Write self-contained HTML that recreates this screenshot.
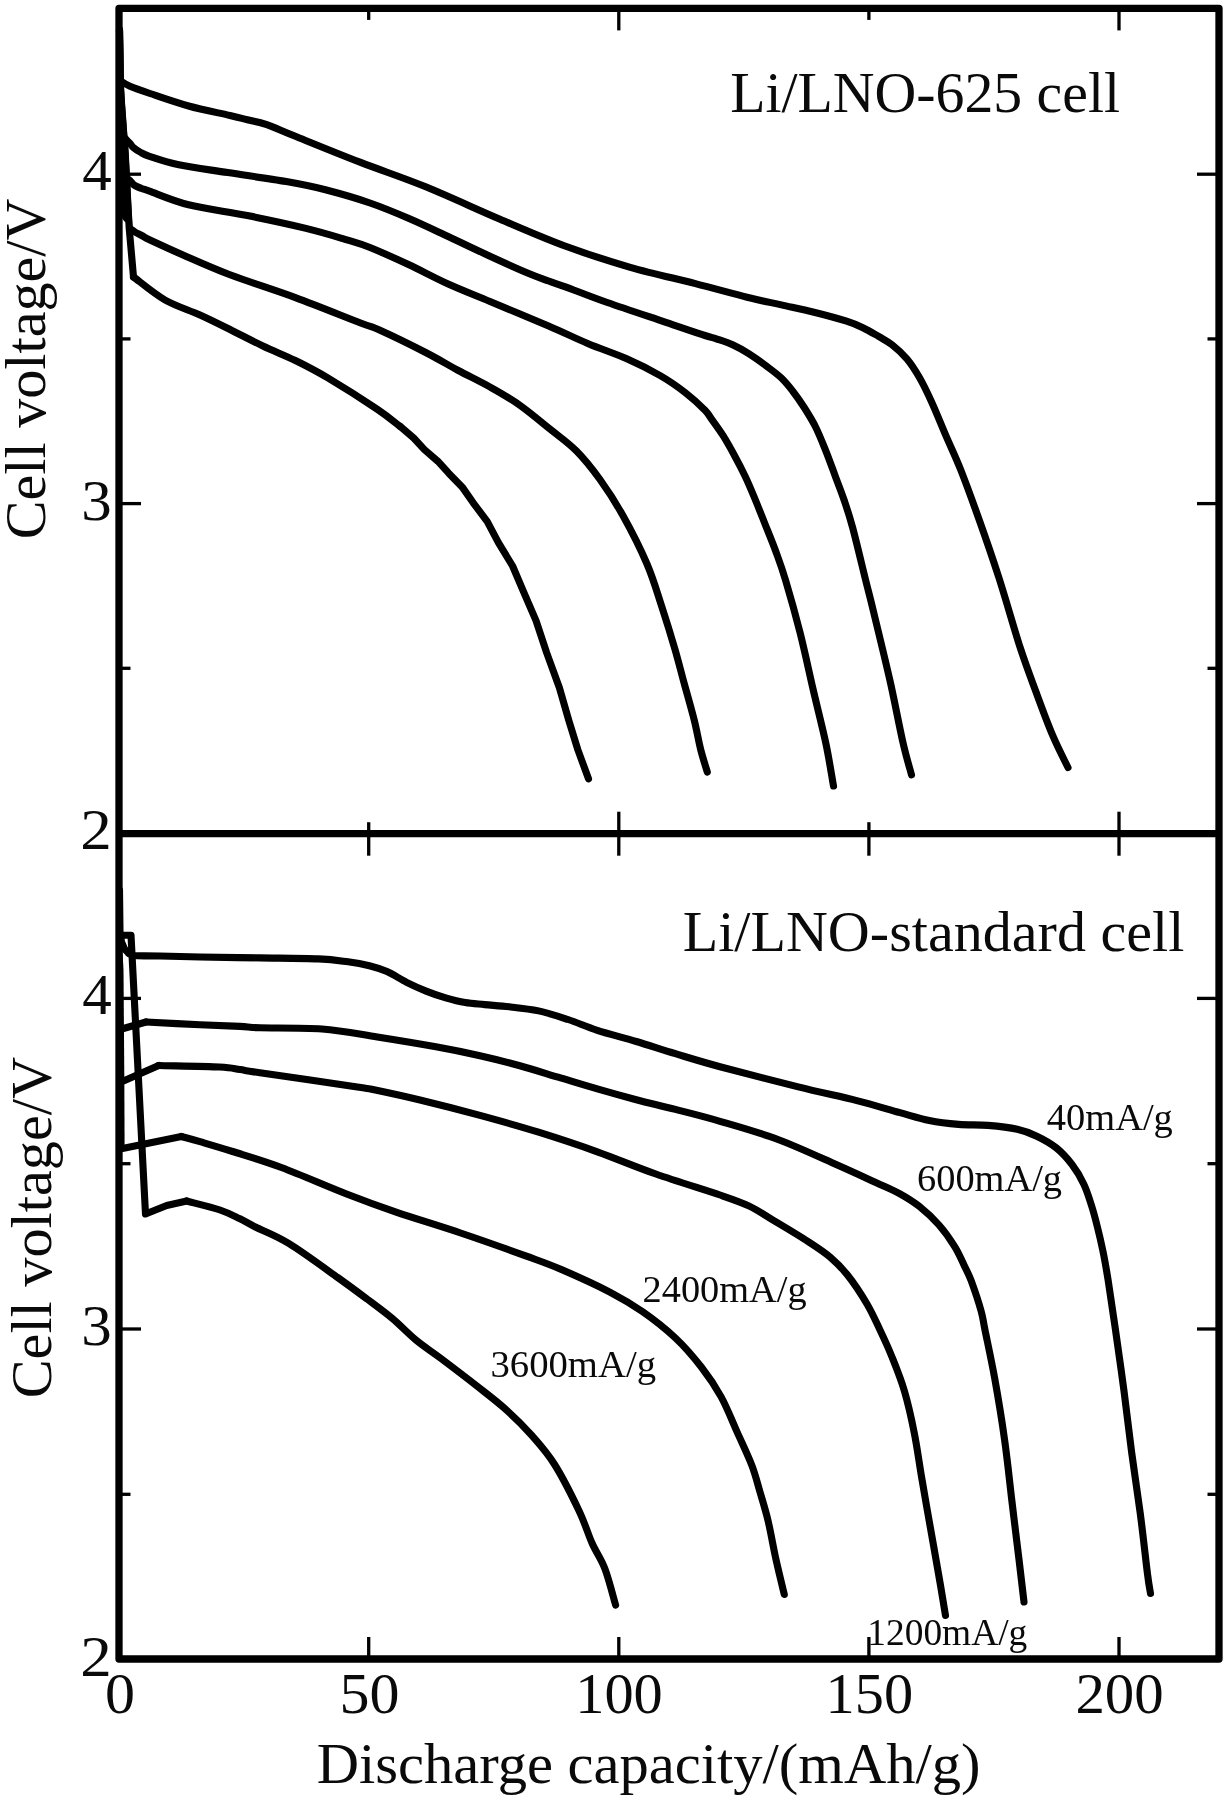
<!DOCTYPE html>
<html><head><meta charset="utf-8"><title>Discharge curves</title>
<style>
html,body{margin:0;padding:0;background:#fff}
svg{display:block;filter:blur(0.75px)}
text{fill:#0a0a0a}
</style></head>
<body>
<svg width="1228" height="1800" viewBox="0 0 1228 1800">
<rect width="1228" height="1800" fill="#fff"/>
<g fill="none" stroke="#000" stroke-width="7.1" stroke-linejoin="round" stroke-linecap="round">
<path d="M119.5 30.0 L120.0 78.0"/>
<path d="M120.8 81.0 C122.3 81.9 125.1 84.2 130.0 86.3 C134.9 88.4 140.2 90.2 150.0 93.5 C159.8 96.8 175.3 102.3 188.6 106.0 C201.9 109.7 220.2 113.2 230.0 115.5 C239.8 117.8 241.2 118.3 247.3 119.8 C253.4 121.3 258.8 122.0 266.8 124.7 C274.8 127.5 279.8 130.0 295.4 136.3 C311.0 142.6 338.9 154.0 360.6 162.4 C382.3 170.8 402.5 177.3 425.7 186.8 C448.9 196.3 476.8 209.3 500.0 219.2 C523.2 229.1 543.3 238.0 565.0 246.0 C586.7 254.0 608.6 261.0 630.3 267.3 C652.0 273.6 675.9 278.6 695.4 283.6 C714.9 288.6 732.7 293.6 747.0 297.2 C761.3 300.8 770.2 302.4 781.4 304.9 C792.6 307.4 803.1 309.5 814.0 312.2 C824.9 314.9 838.5 318.6 846.6 321.2 C854.8 323.8 857.5 325.1 862.9 327.7 C868.3 330.3 874.1 333.8 879.0 336.6 C883.9 339.5 887.3 341.1 892.0 344.8 C896.7 348.5 902.5 353.6 907.0 359.0 C911.5 364.4 915.2 370.2 919.3 377.3 C923.4 384.4 927.0 391.9 931.5 401.7 C936.0 411.5 941.1 424.5 946.0 435.9 C950.9 447.3 955.2 455.8 960.8 470.0 C966.4 484.2 973.2 503.0 979.6 521.0 C986.0 539.0 992.2 556.9 999.0 578.0 C1005.8 599.1 1014.0 628.5 1020.2 647.7 C1026.5 666.9 1031.1 678.6 1036.5 693.3 C1041.9 708.0 1047.5 723.3 1052.8 735.7 C1058.0 748.1 1065.5 762.3 1068.0 767.6"/>
<path d="M119.5 30.0 L120.0 78.0"/>
<path d="M124.8 138.0 C125.2 138.5 126.6 140.1 127.5 141.0 C128.4 141.9 129.0 142.4 130.0 143.5 C131.0 144.6 131.6 146.1 133.3 147.5 C135.0 148.9 137.3 150.5 140.0 152.0 C142.7 153.5 143.0 154.2 149.5 156.3 C156.0 158.4 165.9 162.1 178.9 164.8 C191.9 167.5 209.8 169.8 227.7 172.6 C245.6 175.4 270.0 178.7 286.3 181.6 C302.6 184.5 311.4 186.2 325.4 189.8 C339.3 193.4 356.1 198.2 370.0 203.0 C383.9 207.8 396.0 212.9 409.0 218.5 C422.0 224.1 435.1 230.4 448.2 236.5 C461.2 242.6 474.3 249.0 487.3 255.0 C500.3 261.0 516.1 268.2 526.3 272.5 C536.5 276.8 542.1 278.6 548.6 281.0 C555.1 283.4 555.6 283.2 565.4 286.8 C575.2 290.4 590.5 296.6 607.3 302.5 C624.0 308.4 649.6 316.8 665.9 322.3 C682.2 327.8 696.6 332.8 705.0 335.5 C713.4 338.2 711.7 337.2 716.3 338.8 C720.9 340.4 727.2 342.3 732.6 344.8 C738.0 347.3 743.5 350.3 748.9 353.7 C754.3 357.1 759.6 360.9 765.0 365.0 C770.4 369.1 776.8 373.6 781.4 378.0 C786.0 382.4 789.0 386.3 792.8 391.2 C796.6 396.1 800.4 401.5 804.2 407.5 C808.0 413.5 812.1 419.9 815.6 427.0 C819.1 434.1 822.1 441.7 825.4 449.8 C828.7 457.9 832.1 467.5 835.2 475.9 C838.3 484.3 841.2 491.4 844.1 500.0 C847.0 508.6 849.0 514.2 852.6 527.5 C856.2 540.8 862.1 565.9 865.6 580.0 C869.1 594.1 869.6 595.3 873.6 612.0 C877.6 628.7 885.0 658.6 889.9 680.3 C894.8 702.0 899.3 726.5 902.9 742.2 C906.5 758.0 910.1 769.4 911.5 774.8"/>
<path d="M119.5 30.0 L120.0 78.0"/>
<path d="M127.0 178.5 C127.5 178.8 128.8 179.4 130.0 180.5 C131.2 181.6 132.1 183.7 134.0 185.0 C135.9 186.3 139.1 187.5 141.7 188.5 C144.3 189.5 141.7 188.5 149.5 191.2 C157.3 193.9 172.3 200.7 188.6 204.8 C204.9 208.9 227.7 211.7 247.3 215.6 C266.9 219.5 289.7 224.4 306.0 228.4 C322.3 232.4 334.3 236.1 345.0 239.3 C355.7 242.5 359.3 243.2 370.0 247.5 C380.7 251.8 396.0 258.7 409.0 264.8 C422.0 270.9 434.7 277.9 448.2 284.0 C461.7 290.1 473.3 294.5 490.0 301.5 C506.7 308.5 532.3 319.0 548.6 326.0 C564.9 333.0 574.7 338.0 587.7 343.5 C600.7 349.0 614.8 353.5 626.8 358.8 C638.8 364.1 650.2 369.9 660.0 375.5 C669.8 381.1 677.9 386.9 685.4 392.7 C692.9 398.5 700.7 405.8 705.0 410.2 C709.3 414.6 708.4 414.7 711.4 418.9 C714.4 423.1 719.0 429.2 722.8 435.2 C726.6 441.2 730.5 448.2 734.2 455.0 C737.9 461.8 741.5 468.7 745.0 476.0 C748.5 483.3 751.7 491.0 755.0 499.0 C758.3 507.0 761.5 515.2 765.0 524.0 C768.5 532.8 772.6 542.7 776.0 552.0 C779.4 561.3 781.5 566.6 785.5 580.0 C789.5 593.4 795.4 614.2 800.0 632.4 C804.6 650.5 808.7 670.3 813.0 688.9 C817.3 707.5 822.6 727.8 826.0 744.0 C829.4 760.2 832.2 779.0 833.5 786.0"/>
<path d="M119.5 30.0 L120.0 78.0"/>
<path d="M129.6 228.5 C130.5 229.1 133.0 230.8 135.0 232.0 C137.0 233.2 139.2 234.2 141.7 235.5 C144.2 236.8 143.1 236.8 150.0 240.0 C156.9 243.2 169.7 249.2 183.0 255.0 C196.3 260.8 211.3 267.7 230.0 274.8 C248.7 281.9 273.6 289.6 295.4 297.6 C317.2 305.6 346.5 317.6 360.6 323.0 C374.7 328.4 369.1 325.4 380.0 330.3 C390.9 335.2 412.6 345.8 425.7 352.5 C438.8 359.2 447.6 364.8 458.3 370.5 C469.0 376.2 479.8 381.3 490.0 387.0 C500.2 392.7 509.2 397.7 519.3 404.8 C529.4 411.9 541.1 421.8 550.6 429.5 C560.1 437.2 568.3 442.7 576.5 451.0 C584.7 459.3 592.1 468.6 599.8 479.3 C607.5 490.0 614.7 500.9 622.6 515.0 C630.5 529.1 640.5 548.8 647.0 564.0 C653.5 579.2 657.1 592.3 661.7 606.4 C666.3 620.5 671.0 635.7 674.8 648.7 C678.6 661.7 681.2 672.5 684.5 684.5 C687.8 696.5 691.6 709.5 694.3 720.4 C697.0 731.3 698.6 741.4 700.8 750.0 C703.0 758.6 706.2 768.3 707.3 772.0"/>
<path d="M119.5 40.0 L120.0 78.0 L121.5 103.0 L124.0 137.0 L125.2 153.0 L126.5 178.0 L127.8 203.0 L129.2 228.0 L133.5 277.0"/>
<path d="M133.5 277.0 C138.8 280.8 153.9 293.7 165.0 300.0 C176.1 306.3 189.2 310.1 200.0 315.0 C210.8 319.9 219.5 324.3 230.0 329.5 C240.5 334.7 252.0 340.8 262.9 346.0 C273.8 351.2 284.5 355.2 295.4 360.5 C306.2 365.8 314.4 369.9 328.0 378.0 C341.6 386.1 364.9 400.9 376.9 409.0 C388.9 417.1 396.1 423.4 400.0 426.3"/>
<path d="M400.0 426.3 L413.7 438.0 L424.4 449.6 L437.8 461.2 L448.7 473.2 L462.1 486.9 L473.2 502.8 L487.3 521.6 L498.4 542.7 L512.6 566.0 L523.5 591.7 L536.1 620.9 L546.7 652.9 L559.4 687.7 L568.9 720.8 L577.8 749.6 L588.5 778.8"/>
<path d="M119.5 890.0 L120.0 932.0 L121.5 942.0 L124.5 949.0 L129.0 953.5"/>
<path d="M129.0 953.5 C129.7 953.8 131.7 954.8 133.0 955.2 C134.3 955.6 132.5 955.7 137.0 955.8 C141.5 955.9 149.5 955.8 160.0 956.0 C170.5 956.2 183.3 956.7 200.0 957.0 C216.7 957.3 240.2 957.6 260.0 957.9 C279.8 958.2 303.9 958.2 318.6 958.9 C333.3 959.5 339.5 960.7 348.0 961.8 C356.5 962.9 362.9 964.1 369.4 965.7 C375.9 967.3 380.8 968.8 387.0 971.6 C393.2 974.4 400.1 979.0 406.6 982.3 C413.1 985.5 419.6 988.5 426.1 991.1 C432.6 993.7 439.2 996.0 445.7 997.9 C452.2 999.8 458.7 1001.5 465.2 1002.6 C471.7 1003.7 477.3 1003.9 484.7 1004.6 C492.1 1005.3 500.3 1005.8 509.3 1006.8 C518.3 1007.8 528.8 1008.8 538.6 1010.9 C548.4 1013.0 558.2 1016.3 568.0 1019.5 C577.8 1022.7 585.9 1026.6 597.3 1030.3 C608.7 1034.0 623.3 1037.6 636.3 1041.5 C649.3 1045.4 661.4 1049.5 675.4 1053.7 C689.4 1057.9 699.5 1061.2 720.0 1066.7 C740.5 1072.2 775.4 1081.2 798.2 1086.9 C821.0 1092.6 839.8 1096.3 856.8 1100.6 C873.8 1104.9 887.9 1109.4 900.0 1112.7 C912.1 1116.0 919.5 1118.5 929.3 1120.5 C939.1 1122.5 948.8 1123.6 958.6 1124.4 C968.4 1125.2 978.2 1124.6 988.0 1125.4 C997.8 1126.2 1009.2 1127.5 1017.3 1129.3 C1025.4 1131.1 1030.3 1133.1 1036.8 1136.2 C1043.3 1139.3 1050.4 1143.2 1056.3 1147.9 C1062.2 1152.6 1067.4 1158.5 1072.0 1164.5 C1076.6 1170.5 1080.5 1177.2 1083.7 1184.0 C1087.0 1190.8 1089.2 1198.3 1091.5 1205.5 C1093.8 1212.7 1095.5 1219.2 1097.4 1227.0 C1099.4 1234.8 1101.4 1243.6 1103.2 1252.4 C1105.0 1261.2 1106.0 1267.1 1108.1 1280.0 C1110.1 1292.9 1112.8 1311.5 1115.5 1330.0 C1118.2 1348.5 1121.3 1370.7 1124.0 1391.0 C1126.7 1411.3 1128.9 1431.7 1131.6 1452.0 C1134.3 1472.3 1137.5 1492.7 1140.2 1513.0 C1142.9 1533.3 1145.8 1560.6 1147.5 1574.0 C1149.2 1587.4 1150.0 1590.2 1150.5 1593.5"/>
<path d="M120.0 1029.5 L146.0 1022.0"/>
<path d="M146.0 1022.0 C155.0 1022.5 184.3 1024.1 200.0 1024.8 C215.7 1025.5 230.0 1025.9 240.0 1026.4 C250.0 1026.9 246.3 1027.4 260.0 1027.8 C273.7 1028.2 302.4 1027.5 322.0 1029.0 C341.6 1030.5 358.3 1034.0 377.3 1037.0 C396.3 1040.0 418.8 1043.7 435.9 1046.8 C453.0 1049.9 466.1 1052.6 480.0 1055.7 C493.9 1058.8 506.0 1061.9 519.0 1065.5 C532.0 1069.1 545.2 1073.3 558.2 1077.2 C571.2 1081.1 584.3 1085.2 597.3 1088.9 C610.3 1092.7 623.3 1096.3 636.3 1099.7 C649.3 1103.1 661.4 1105.8 675.4 1109.4 C689.4 1113.0 702.8 1116.2 720.0 1121.3 C737.2 1126.3 759.1 1132.4 778.6 1139.7 C798.1 1147.0 821.0 1157.8 837.3 1165.0 C853.6 1172.2 865.8 1177.9 876.3 1182.7 C886.8 1187.5 892.8 1189.8 900.0 1193.8 C907.2 1197.8 913.0 1201.3 919.5 1206.5 C926.0 1211.7 933.1 1218.3 939.0 1225.0 C944.9 1231.7 950.5 1239.8 954.7 1246.6 C959.0 1253.4 961.7 1260.4 964.5 1266.1 C967.3 1271.8 968.5 1273.6 971.3 1281.0 C974.0 1288.4 978.7 1302.4 981.0 1310.6 C983.3 1318.8 982.7 1318.6 985.0 1330.0 C987.3 1341.4 991.5 1360.6 994.8 1378.9 C998.1 1397.2 1001.8 1419.7 1004.6 1440.0 C1007.5 1460.3 1009.5 1480.7 1011.9 1501.0 C1014.3 1521.3 1017.3 1545.2 1019.3 1562.0 C1021.3 1578.8 1023.2 1595.3 1024.0 1602.0"/>
<path d="M120.0 1082.5 L158.7 1065.5"/>
<path d="M158.7 1065.5 C168.8 1065.8 205.9 1066.3 219.5 1067.0 C233.1 1067.7 233.2 1068.6 240.0 1069.6 C246.8 1070.6 240.4 1069.9 260.0 1072.8 C279.6 1075.7 338.1 1084.1 357.3 1087.0 C376.5 1089.9 364.9 1087.8 375.3 1090.0 C385.8 1092.2 402.6 1095.8 420.0 1100.0 C437.4 1104.2 460.2 1110.0 480.0 1115.4 C499.8 1120.8 519.1 1126.1 538.6 1132.2 C558.1 1138.3 577.8 1144.8 597.3 1151.8 C616.8 1158.8 635.4 1166.8 655.9 1174.0 C676.4 1181.2 704.4 1189.7 720.0 1195.0 C735.6 1200.3 740.5 1201.9 749.3 1206.1 C758.1 1210.3 763.0 1214.1 772.8 1220.0 C782.6 1225.9 798.5 1235.3 808.0 1241.5 C817.5 1247.7 823.4 1251.4 830.0 1257.0 C836.6 1262.6 841.3 1267.2 847.5 1275.0 C853.7 1282.8 861.6 1294.8 867.0 1304.0 C872.4 1313.2 875.8 1321.2 880.0 1330.0 C884.2 1338.8 887.9 1346.8 892.0 1357.0 C896.1 1367.2 900.7 1378.4 904.4 1391.0 C908.1 1403.6 911.4 1418.3 914.2 1432.6 C917.1 1446.9 918.9 1461.1 921.5 1476.6 C924.1 1492.1 927.1 1509.2 930.0 1525.5 C932.9 1541.8 936.0 1559.3 938.6 1574.3 C941.2 1589.3 944.4 1608.6 945.5 1615.5"/>
<path d="M120.0 1149.0 L181.4 1136.5"/>
<path d="M181.4 1136.5 C184.5 1137.4 191.5 1139.2 200.0 1141.7 C208.5 1144.2 219.0 1147.2 232.6 1151.5 C246.2 1155.8 262.4 1160.4 281.4 1167.5 C300.4 1174.6 327.6 1186.6 346.6 1194.0 C365.6 1201.4 376.4 1205.4 395.4 1211.9 C414.4 1218.4 438.9 1225.7 460.6 1233.0 C482.3 1240.3 508.9 1249.8 525.7 1255.9 C542.5 1262.0 547.3 1263.4 561.4 1269.5 C575.5 1275.6 596.7 1285.2 610.3 1292.3 C623.9 1299.4 632.0 1304.3 642.9 1311.9 C653.8 1319.5 665.6 1328.8 675.4 1338.0 C685.2 1347.2 693.9 1357.5 701.5 1367.3 C709.1 1377.1 715.0 1385.8 721.0 1396.6 C727.0 1407.4 732.2 1421.0 737.3 1432.4 C742.4 1443.8 747.9 1455.1 751.7 1465.0 C755.5 1474.9 757.3 1482.8 760.0 1492.0 C762.7 1501.2 765.3 1509.2 768.0 1520.5 C770.7 1531.8 773.3 1547.3 776.0 1559.6 C778.7 1571.9 782.9 1588.7 784.3 1594.5"/>
<path d="M119.5 935.3 L131.0 935.3 L145.5 1214.0 L166.7 1205.5 L186.7 1201.0"/>
<path d="M186.7 1201.0 C192.2 1202.5 211.1 1207.0 220.0 1210.0 C228.9 1213.0 234.1 1216.0 240.0 1218.8 C245.9 1221.6 247.2 1222.9 255.4 1227.0 C263.6 1231.1 275.2 1235.1 288.9 1243.5 C302.6 1251.9 324.7 1268.2 337.7 1277.5 C350.7 1286.8 357.9 1292.2 367.0 1299.0 C376.1 1305.8 384.2 1311.7 392.4 1318.5 C400.5 1325.3 407.8 1333.3 415.9 1340.0 C424.0 1346.7 430.8 1350.8 441.0 1358.5 C451.2 1366.2 466.1 1377.5 476.9 1386.0 C487.7 1394.5 496.8 1401.3 506.0 1409.6 C515.2 1417.9 523.9 1426.5 532.0 1435.7 C540.1 1444.9 547.1 1452.5 554.9 1465.0 C562.7 1477.5 572.8 1497.7 579.0 1510.7 C585.2 1523.7 587.7 1533.3 592.0 1543.0 C596.3 1552.7 601.1 1558.7 605.0 1569.0 C608.9 1579.3 613.8 1599.0 615.6 1605.0"/>
</g>
<g fill="#000" stroke="none">
<polygon points="119.2,32.0 123.4,78.0 124.9,103.0 127.4,137.0 128.6,153.0 129.9,178.0 131.2,203.0 132.6,228.0 124.0,221.0 119.2,214.0"/>
<polygon points="119.2,890.0 123.5,970.0 124.3,1075.0 124.6,1146.0 119.2,1150.0"/>
</g>
<g stroke="#000" fill="none">
<line x1="368.7" y1="8.4" x2="368.7" y2="19.9" stroke-width="3.3"/>
<line x1="368.7" y1="833.7" x2="368.7" y2="822.2" stroke-width="3.3"/>
<line x1="618.8" y1="8.4" x2="618.8" y2="30.4" stroke-width="3.3"/>
<line x1="618.8" y1="833.7" x2="618.8" y2="811.7" stroke-width="3.3"/>
<line x1="868.9" y1="8.4" x2="868.9" y2="19.9" stroke-width="3.3"/>
<line x1="868.9" y1="833.7" x2="868.9" y2="822.2" stroke-width="3.3"/>
<line x1="1119.0" y1="8.4" x2="1119.0" y2="30.4" stroke-width="3.3"/>
<line x1="1119.0" y1="833.7" x2="1119.0" y2="811.7" stroke-width="3.3"/>
<line x1="368.7" y1="833.7" x2="368.7" y2="855.7" stroke-width="3.3"/>
<line x1="368.7" y1="1659.0" x2="368.7" y2="1637.0" stroke-width="3.3"/>
<line x1="618.8" y1="833.7" x2="618.8" y2="855.7" stroke-width="3.3"/>
<line x1="618.8" y1="1659.0" x2="618.8" y2="1637.0" stroke-width="3.3"/>
<line x1="868.9" y1="833.7" x2="868.9" y2="855.7" stroke-width="3.3"/>
<line x1="868.9" y1="1659.0" x2="868.9" y2="1637.0" stroke-width="3.3"/>
<line x1="1119.0" y1="833.7" x2="1119.0" y2="855.7" stroke-width="3.3"/>
<line x1="1119.0" y1="1659.0" x2="1119.0" y2="1637.0" stroke-width="3.3"/>
<line x1="119.0" y1="668.3" x2="130.5" y2="668.3" stroke-width="3.3"/>
<line x1="1219.0" y1="668.3" x2="1207.5" y2="668.3" stroke-width="3.3"/>
<line x1="119.0" y1="503.6" x2="141.0" y2="503.6" stroke-width="3.3"/>
<line x1="1219.0" y1="503.6" x2="1197.0" y2="503.6" stroke-width="3.3"/>
<line x1="119.0" y1="338.9" x2="130.5" y2="338.9" stroke-width="3.3"/>
<line x1="1219.0" y1="338.9" x2="1207.5" y2="338.9" stroke-width="3.3"/>
<line x1="119.0" y1="174.2" x2="141.0" y2="174.2" stroke-width="3.3"/>
<line x1="1219.0" y1="174.2" x2="1197.0" y2="174.2" stroke-width="3.3"/>
<line x1="119.0" y1="1494.3" x2="130.5" y2="1494.3" stroke-width="3.3"/>
<line x1="1219.0" y1="1494.3" x2="1207.5" y2="1494.3" stroke-width="3.3"/>
<line x1="119.0" y1="1329.0" x2="141.0" y2="1329.0" stroke-width="3.3"/>
<line x1="1219.0" y1="1329.0" x2="1197.0" y2="1329.0" stroke-width="3.3"/>
<line x1="119.0" y1="1163.7" x2="130.5" y2="1163.7" stroke-width="3.3"/>
<line x1="1219.0" y1="1163.7" x2="1207.5" y2="1163.7" stroke-width="3.3"/>
<line x1="119.0" y1="998.4" x2="141.0" y2="998.4" stroke-width="3.3"/>
<line x1="1219.0" y1="998.4" x2="1197.0" y2="998.4" stroke-width="3.3"/>
</g>
<g fill="none" stroke="#000" stroke-width="7.3" stroke-linejoin="round">
<rect x="119.0" y="8.4" width="1100.0" height="1650.6"/>
<line x1="119.0" y1="833.7" x2="1219.0" y2="833.7"/>
</g>
<g font-family="Liberation Serif, Times New Roman, serif">
<text x="111.8" y="849.0" font-size="58.0" text-anchor="end" textLength="31.5" lengthAdjust="spacingAndGlyphs">2</text>
<text x="111.8" y="519.6" font-size="58.0" text-anchor="end" textLength="30.5" lengthAdjust="spacingAndGlyphs">3</text>
<text x="111.8" y="190.2" font-size="58.0" text-anchor="end" textLength="29.5" lengthAdjust="spacingAndGlyphs">4</text>
<text x="111.8" y="1675.6" font-size="58.0" text-anchor="end" textLength="31.5" lengthAdjust="spacingAndGlyphs">2</text>
<text x="111.8" y="1345.0" font-size="58.0" text-anchor="end" textLength="30.5" lengthAdjust="spacingAndGlyphs">3</text>
<text x="111.8" y="1014.4" font-size="58.0" text-anchor="end" textLength="29.5" lengthAdjust="spacingAndGlyphs">4</text>
<text x="120.0" y="1713.0" font-size="58.0" text-anchor="middle" textLength="30.0" lengthAdjust="spacingAndGlyphs">0</text>
<text x="369.6" y="1713.0" font-size="58.0" text-anchor="middle" textLength="60.0" lengthAdjust="spacingAndGlyphs">50</text>
<text x="619.0" y="1713.0" font-size="58.0" text-anchor="middle" textLength="87.5" lengthAdjust="spacingAndGlyphs">100</text>
<text x="869.3" y="1713.0" font-size="58.0" text-anchor="middle" textLength="87.5" lengthAdjust="spacingAndGlyphs">150</text>
<text x="1119.6" y="1713.0" font-size="58.0" text-anchor="middle" textLength="88.3" lengthAdjust="spacingAndGlyphs">200</text>
<text x="730.2" y="111.6" font-size="57.5" text-anchor="start" textLength="389.8" lengthAdjust="spacingAndGlyphs">Li/LNO-625 cell</text>
<text x="682.7" y="951.2" font-size="57.5" text-anchor="start" textLength="501.6" lengthAdjust="spacingAndGlyphs">Li/LNO-standard cell</text>
<text x="316.7" y="1782.9" font-size="57.5" text-anchor="start" textLength="663.8" lengthAdjust="spacingAndGlyphs">Discharge capacity/(mAh/g)</text>
<text x="1046.8" y="1130.0" font-size="38.0" text-anchor="start" textLength="126.0" lengthAdjust="spacingAndGlyphs">40mA/g</text>
<text x="917.0" y="1191.0" font-size="38.0" text-anchor="start" textLength="145.0" lengthAdjust="spacingAndGlyphs">600mA/g</text>
<text x="642.6" y="1302.0" font-size="38.0" text-anchor="start" textLength="164.0" lengthAdjust="spacingAndGlyphs">2400mA/g</text>
<text x="490.5" y="1377.0" font-size="38.0" text-anchor="start" textLength="165.5" lengthAdjust="spacingAndGlyphs">3600mA/g</text>
<text x="867.3" y="1645.0" font-size="38.0" text-anchor="start" textLength="160.0" lengthAdjust="spacingAndGlyphs">1200mA/g</text>
<text transform="translate(44.5 368.9) rotate(-90)" font-size="58.0" text-anchor="middle" textLength="340.8" lengthAdjust="spacingAndGlyphs">Cell voltage/V</text>
<text transform="translate(50.7 1227.6) rotate(-90)" font-size="58.0" text-anchor="middle" textLength="341.5" lengthAdjust="spacingAndGlyphs">Cell voltage/V</text>
</g>
</svg>
</body></html>
